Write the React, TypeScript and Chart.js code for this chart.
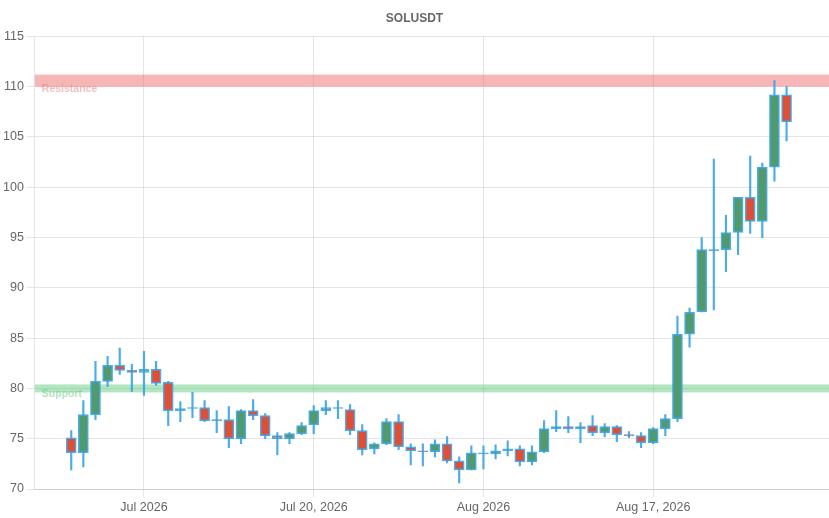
import { useEffect, useRef } from "react";
import { Chart, registerables } from "chart.js";

Chart.register(...registerables);

// daily candles, oldest first
const opens = [
  75.1, 73.6, 77.4, 80.7, 82.3, 81.8, 81.6, 81.9, 80.6, 77.8,
  78.0, 78.1, 76.8, 76.9, 75.0, 77.8, 77.3, 75.3, 75.0, 75.5,
  76.4, 77.8, 78.0, 77.9, 75.8, 74.0, 74.5, 76.7, 74.2, 73.8,
  73.7, 74.5, 72.8, 71.9, 73.5, 73.5, 73.8, 74.0, 72.7, 73.7,
  76.0, 76.2, 76.0, 76.3, 75.6, 76.2, 75.4, 75.3, 74.6, 76.0,
  77.0, 85.4, 87.6, 93.7, 93.8, 95.5, 99.0, 96.6, 102.0, 109.2,
];
const highs = [
  75.8, 78.8, 82.7, 83.2, 84.0, 82.4, 83.7, 82.7, 80.7, 78.7,
  79.6, 78.8, 77.8, 78.2, 77.9, 78.9, 77.5, 75.6, 75.6, 76.6,
  78.3, 78.8, 78.8, 78.4, 76.4, 74.6, 77.0, 77.4, 74.5, 74.5,
  74.9, 75.2, 73.2, 74.3, 74.3, 74.4, 74.8, 74.3, 74.3, 76.8,
  77.8, 77.2, 76.6, 77.3, 76.5, 76.3, 75.7, 75.6, 76.1, 77.4,
  87.2, 88.0, 95.0, 102.8, 97.2, 99.0, 103.1, 102.4, 110.6, 110.0,
];
const lows = [
  71.9, 72.2, 76.9, 80.2, 81.4, 79.7, 79.3, 80.3, 76.3, 76.7,
  77.1, 76.7, 75.6, 74.1, 74.5, 76.9, 75.0, 73.4, 74.5, 75.4,
  75.5, 77.4, 77.0, 75.4, 73.4, 73.5, 74.4, 73.9, 72.4, 72.3,
  73.2, 72.6, 70.6, 71.9, 72.0, 73.0, 73.3, 72.3, 72.4, 73.6,
  75.7, 75.6, 74.6, 75.3, 75.2, 74.7, 75.1, 74.1, 74.5, 75.3,
  76.7, 84.1, 87.6, 87.8, 91.6, 93.3, 95.4, 95.0, 100.6, 104.6,
];
const closes = [
  73.6, 77.4, 80.7, 82.3, 81.8, 81.6, 81.9, 80.5, 77.8, 78.0,
  78.1, 76.8, 76.9, 75.0, 77.8, 77.3, 75.3, 75.0, 75.5, 76.3,
  77.8, 78.1, 78.1, 75.8, 73.9, 74.5, 76.7, 74.2, 73.8, 73.7,
  74.5, 72.8, 71.9, 73.6, 73.6, 73.8, 74.0, 72.7, 73.7, 76.0,
  76.2, 76.0, 76.2, 75.6, 76.2, 75.4, 75.3, 74.6, 76.0, 77.0,
  85.4, 87.6, 93.8, 93.8, 95.5, 99.0, 96.6, 102.0, 109.2, 106.5,
];

// x-axis ticks (candle index -> label)
const tickPositions = [6, 20, 34, 48];
const tickLabels = ["Jul 2026", "Jul 20, 2026", "Aug 2026", "Aug 17, 2026"];

// horizontal zones
const zoneNames = ["Resistance", "Support"];
const zoneLows = [110.0, 79.6];
const zoneHighs = [111.2, 80.4];
const zoneFills = ["rgba(240, 110, 110, 0.5)", "rgba(100, 205, 130, 0.5)"];
const zoneTextColors = ["rgba(236, 110, 110, 0.45)", "rgba(90, 195, 120, 0.45)"];

const UP = "#4f9a6e";
const DOWN = "#dc503a";
const EDGE = "rgba(54, 162, 235, 0.9)";
const FONT = "Arial, 'Liberation Sans', sans-serif";

const zonesPlugin = {
  id: "zones",
  beforeDatasetsDraw(chart: Chart) {
    const { ctx, chartArea, scales } = chart;
    const y = scales.y;
    ctx.save();
    zoneNames.forEach((name, i) => {
      const top = y.getPixelForValue(zoneHighs[i]);
      const bottom = y.getPixelForValue(zoneLows[i]);
      ctx.fillStyle = zoneFills[i];
      ctx.fillRect(chartArea.left, top, chartArea.right - chartArea.left, bottom - top);
      ctx.fillStyle = zoneTextColors[i];
      ctx.font = `bold 10.5px ${FONT}`;
      ctx.textBaseline = "middle";
      ctx.textAlign = "left";
      ctx.fillText(name, chartArea.left + 7, bottom + 2);
    });
    ctx.restore();
  },
};

export default function App() {
  const canvasRef = useRef<HTMLCanvasElement | null>(null);

  useEffect(() => {
    document.body.style.margin = "0";
    if (!canvasRef.current) return;

    const bodies = opens.map((o, i) => ({ x: i, y: [o, closes[i]] }));
    const wicks = lows.map((l, i) => ({ x: i, y: [l, highs[i]] }));
    const colors = opens.map((o, i) => (closes[i] >= o ? UP : DOWN));

    const chart = new Chart(canvasRef.current, {
      type: "bar",
      data: {
        datasets: [
          {
            label: "body",
            data: bodies as any,
            backgroundColor: colors,
            borderColor: EDGE,
            borderWidth: 1.5,
            borderSkipped: false,
            barThickness: 10,
            grouped: false,
            order: 1,
          },
          {
            label: "wick",
            data: wicks as any,
            backgroundColor: EDGE,
            borderWidth: 0,
            barThickness: 1.5,
            grouped: false,
            order: 2,
          },
        ],
      },
      options: {
        responsive: true,
        maintainAspectRatio: false,
        animation: false,
        plugins: {
          legend: { display: false },
          tooltip: { enabled: false },
          title: {
            display: true,
            text: "SOLUSDT",
            color: "#666",
            padding: { top: 11, bottom: 11 },
            font: { family: FONT, size: 12, weight: "bold" },
          },
        },
        scales: {
          x: {
            type: "linear",
            min: -3,
            max: 62.5,
            offset: false,
            afterBuildTicks: (axis) => {
              axis.ticks = tickPositions.map((v) => ({ value: v }));
            },
            ticks: {
              autoSkip: false,
              maxRotation: 0,
              color: "#666",
              font: { family: FONT, size: 12.5 },
              callback: (value) => {
                const k = tickPositions.indexOf(Number(value));
                return k >= 0 ? tickLabels[k] : "";
              },
            },
            grid: { color: "rgba(0, 0, 0, 0.1)", offset: false },
          },
          y: {
            min: 70,
            max: 115,
            ticks: {
              stepSize: 5,
              color: "#666",
              font: { family: FONT, size: 12.5 },
            },
            grid: { color: "rgba(0, 0, 0, 0.1)" },
          },
        },
      },
      plugins: [zonesPlugin],
    });

    return () => {
      chart.destroy();
    };
  }, []);

  return (
    <div style={{ position: "relative", width: "829px", height: "518px" }}>
      <canvas ref={canvasRef} />
    </div>
  );
}
